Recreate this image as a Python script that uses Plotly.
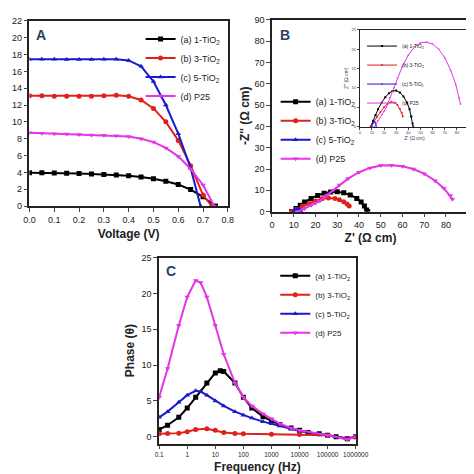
import plotly.graph_objects as go

names = ["(a) 1-TiO<sub>2</sub>", "(b) 3-TiO<sub>2</sub>", "(c) 5-TiO<sub>2</sub>", "(d) P25"]
colors = ["#000000", "#e0201b", "#1a1acd", "#e535e5"]
symbols = ["square", "circle", "triangle-up", "triangle-down"]

# Panel A: J-V
va = [0,0.05,0.1,0.15,0.2,0.25,0.3,0.35,0.4,0.45,0.5,0.55,0.6,0.65,0.7,0.75]
ja = [3.95,3.95,3.93,3.9,3.87,3.82,3.76,3.7,3.6,3.45,3.25,2.95,2.55,1.95,1.1,0.0]
vb = [0,0.05,0.1,0.15,0.2,0.25,0.3,0.35,0.4,0.45,0.5,0.55,0.6,0.65,0.7,0.735]
jb = [13.1,13.1,13.05,13.05,13.05,13.05,13.1,13.15,13.05,12.6,11.6,10.0,7.8,4.8,1.3,0.0]
vc = [0,0.05,0.1,0.15,0.2,0.25,0.3,0.35,0.4,0.45,0.5,0.55,0.6,0.65,0.69]
jc = [17.45,17.45,17.45,17.4,17.4,17.4,17.45,17.45,17.3,16.6,14.8,12.0,8.6,4.5,0.0]
vd = [0,0.05,0.1,0.15,0.2,0.25,0.3,0.35,0.4,0.45,0.5,0.55,0.6,0.65,0.7,0.745]
jd = [8.7,8.65,8.6,8.55,8.5,8.45,8.4,8.35,8.25,8.0,7.6,6.9,5.9,4.4,2.5,0.0]

# Panel B: Nyquist
za_re = [9,11,13,15,18,21,24,27,30,33,36,39,41,42.5,43.5,44]
za_im = [0,1.5,3,4.5,6.2,7.6,8.6,9.2,9.3,8.8,7.8,6.2,4.5,2.6,0.8,0]
zb_re = [9,11,14,17,20,23,26,29,31,33,34.5,35.5]
zb_im = [0,1,2.5,3.8,5,6,6.4,6.2,5.6,4.6,3.6,2.6]
zc_re = [10,10.5,11.5,12.5,13.2,13.5]
zc_im = [0,0.8,1.3,1.2,0.6,0]
zd_re = [12,15,18,20,22,25,28,31,35,40,45,50,55,60,65,70,75,79,82,83]
zd_im = [0,1.5,3,4,5,7.5,10,12.5,15.5,18.5,20.5,21.6,21.8,21.3,20,17.8,14.5,11,7.5,5.8]

# Panel C: Bode phase
fa = [0.1,0.2,0.5,1,2,5,10,15,20,50,100,200,500,1e3,2e3,5e3,1e4,2e4,5e4,1e5,2e5,5e5,1e6]
pa = [1.0,1.6,2.7,4.0,5.5,7.5,8.9,9.2,9.1,7.5,5.5,4.0,2.8,2.2,1.7,1.2,0.9,0.6,0.4,0.2,0.0,-0.3,0.0]
fb = [0.1,0.2,0.5,1,2,5,10,20,50,100,1e3,1e4,1e5,5e5,1e6]
pb = [0.4,0.45,0.5,0.7,1.0,1.1,0.9,0.6,0.45,0.4,0.35,0.3,0.2,-0.2,0.0]
fc = [0.1,0.2,0.5,1,2,3,5,10,20,50,100,200,500,1e3,2e3,5e3,1e4,1e5,5e5,1e6]
pc = [2.7,3.5,4.8,5.8,6.4,6.3,5.8,5.0,4.3,3.5,3.0,2.6,2.1,1.8,1.5,1.1,0.8,0.2,-0.3,0.0]
fd = [0.1,0.2,0.5,1,2,3,5,10,20,50,100,200,500,1e3,2e3,5e3,1e4,1e5,5e5,1e6]
pd_ = [5.5,9.5,15.5,19.5,21.8,21.5,19.5,15.5,11.5,7.5,5.5,4.3,3.2,2.5,1.8,1.2,0.9,0.2,-0.4,0.0]

fig = go.Figure()
A = [(va, ja), (vb, jb), (vc, jc), (vd, jd)]
B = [(za_re, za_im), (zb_re, zb_im), (zc_re, zc_im), (zd_re, zd_im)]
C = [(fa, pa), (fb, pb), (fc, pc), (fd, pd_)]
for i in range(4):
    mk = dict(symbol=symbols[i], size=5, color=colors[i])
    ln = dict(color=colors[i], width=2)
    fig.add_trace(go.Scatter(x=A[i][0], y=A[i][1], mode="lines+markers", name=names[i], marker=mk, line=ln,
                             xaxis="x", yaxis="y", legend="legend"))
    fig.add_trace(go.Scatter(x=B[i][0], y=B[i][1], mode="lines+markers", name=names[i], marker=mk, line=ln,
                             xaxis="x2", yaxis="y2", legend="legend2"))
    fig.add_trace(go.Scatter(x=B[i][0], y=B[i][1], mode="lines+markers", name=names[i], legend="legend4",
                             marker=dict(symbol=symbols[i], size=2, color=colors[i]), line=dict(color=colors[i], width=1),
                             xaxis="x4", yaxis="y4"))
    fig.add_trace(go.Scatter(x=C[i][0], y=C[i][1], mode="lines+markers", name=names[i], marker=mk, line=ln,
                             xaxis="x3", yaxis="y3", legend="legend3"))

ax = dict(showline=True, linecolor="#222", linewidth=1.5, mirror=True, ticks="outside", ticklen=4,
          showgrid=False, zeroline=False, tickfont=dict(size=9, color="#222"))
fnt = dict(family="Liberation Sans, Arial", size=12, color="#222")
fig.update_layout(
    width=474, height=474, margin=dict(l=0, r=0, t=0, b=0),
    plot_bgcolor="white", paper_bgcolor="white", font=dict(family="Liberation Sans, Arial"),
    xaxis=dict(ax, domain=[0.034, 0.470], range=[0, 0.8], dtick=0.1, tickformat=".1f", anchor="y",
               title=dict(text="<b>Voltage (V)</b>", font=fnt, standoff=6)),
    yaxis=dict(ax, domain=[0.584, 0.983], range=[0, 22], dtick=2, anchor="x"),
    xaxis2=dict(ax, domain=[0.567, 1.0], range=[0, 90.6], tickvals=[0,10,20,30,40,50,60,70,80], anchor="y2",
                title=dict(text="<b>Z' (Ω cm)</b>", font=fnt, standoff=4)),
    yaxis2=dict(ax, domain=[0.572, 0.985], range=[0, 90], dtick=10, anchor="x2",
                title=dict(text="<b>-Z'' (Ω cm)</b>", font=fnt, standoff=2)),
    xaxis4=dict(ax, domain=[0.760, 1.0], range=[0, 90], dtick=10, anchor="y4", linewidth=1, ticklen=2,
                tickfont=dict(size=4), title=dict(text="Z' (Ω cm)", font=dict(size=5), standoff=2)),
    yaxis4=dict(ax, domain=[0.755, 0.964], range=[0, 25], dtick=5, anchor="x4", linewidth=1, ticklen=2,
                tickfont=dict(size=4), title=dict(text="Z'' (Ω cm)", font=dict(size=5), standoff=2)),
    xaxis3=dict(ax, domain=[0.319, 0.751], type="log", range=[-1, 6], anchor="y3",
                tickvals=[0.1,1,10,100,1000,10000,100000,1000000],
                ticktext=["0.1","1","10","100","1000","10000","100000","1000000"],
                tickfont=dict(size=6.5, color="#222"), tickangle=0,
                title=dict(text="<b>Frequency (Hz)</b>", font=fnt, standoff=5)),
    yaxis3=dict(ax, domain=[0.072, 0.473], range=[-0.96, 25], dtick=5, anchor="x3",
                title=dict(text="<b>Phase (θ)</b>", font=fnt, standoff=4)),
    legend=dict(x=0.465, y=0.975, xanchor="right", yanchor="top", bgcolor="rgba(0,0,0,0)",
                font=dict(size=9, color="#222"), tracegroupgap=0, itemwidth=30),
    legend2=dict(x=0.575, y=0.84, xanchor="left", yanchor="top", bgcolor="rgba(0,0,0,0)",
                 font=dict(size=9, color="#222"), itemwidth=30),
    legend3=dict(x=0.75, y=0.465, xanchor="right", yanchor="top", bgcolor="rgba(0,0,0,0)",
                 font=dict(size=8, color="#222"), itemwidth=30),
    legend4=dict(x=0.765, y=0.96, xanchor="left", yanchor="top", bgcolor="rgba(0,0,0,0)",
                 font=dict(size=5, color="#222"), itemwidth=30, tracegroupgap=0),
    annotations=[
        dict(text="<b>A</b>", x=0.045, y=0.975, xref="paper", yref="paper", showarrow=False, xanchor="left", yanchor="top", font=dict(size=14)),
        dict(text="<b>B</b>", x=0.58, y=0.975, xref="paper", yref="paper", showarrow=False, xanchor="left", yanchor="top", font=dict(size=14)),
        dict(text="<b>C</b>", x=0.33, y=0.465, xref="paper", yref="paper", showarrow=False, xanchor="left", yanchor="top", font=dict(size=14)),
    ],
)
fig.write_html("out.html")
